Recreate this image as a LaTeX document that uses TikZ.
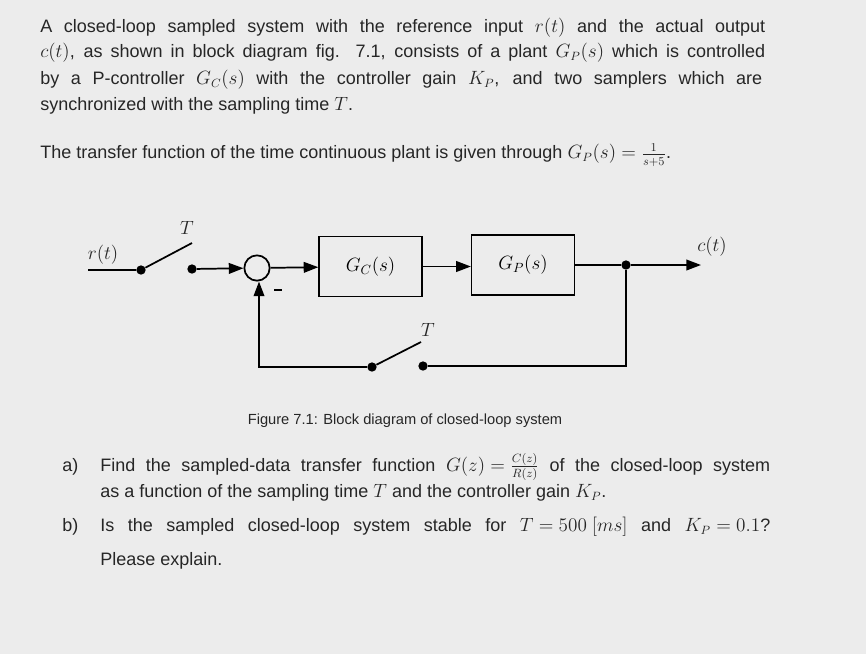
\documentclass[tikz,border=0pt]{standalone}
\usepackage{fontspec}
\setmainfont{Liberation Sans}
\usetikzlibrary{arrows.meta}
\begin{document}
\begin{tikzpicture}[x=0.75pt,y=-0.75pt,
  txt/.style={anchor=west,inner sep=0pt,font=\fontsize{13.5}{16}\selectfont,text=black!85},
  blk/.style={draw,line width=1.2pt,minimum width=77pt,minimum height=45pt,inner sep=0pt,font=\fontsize{14}{16}\selectfont},
  ln/.style={line width=1.3pt},
  arr/.style={ln,-{Triangle[length=11pt,width=8pt]}},
  dot/.style={circle,fill,inner sep=0pt,minimum size=7pt}]
\fill[gray!15] (0,0) rectangle (866,654);
\useasboundingbox (0,0) rectangle (866,654);
\node[txt] (l1) at (40,28) {\makebox[543.75pt][s]{A closed-loop sampled system with the reference input \mbox{$r(t)$} and the actual output}};
\node[txt] (l2) at (40,53) {\makebox[543.75pt][s]{\mbox{$c(t)$}, as shown in block diagram fig. 7.1, consists of a plant \mbox{$G_P(s)$} which is controlled}};
\node[txt] (l3) at (40,80) {\makebox[541.5pt][s]{by a P-controller \mbox{$G_C(s)$} with the controller gain \mbox{$K_P$}, and two samplers which are}};
\node[txt] (l4) at (40,106) {synchronized with the sampling time $T$.};
\node[txt] (l5) at (40,155) {The transfer function of the time continuous plant is given through \mbox{$G_P(s)=\frac{1}{s+5}$}.};
% diagram
\coordinate (rin) at (88,270);
\node[dot] (p1) at (141,270) {};
\coordinate (b1) at (192,243);
\node[dot] (d1) at (192,269) {};
\node[draw,circle,line width=1.3pt,minimum size=19pt,inner sep=0pt] (sum) at (257,268) {};
\node[blk] (gc) at (370.5,266.5) {$G_C(s)$};
\node[blk] (gp) at (523,265) {$G_P(s)$};
\node[dot] (br) at (626,265) {};
\coordinate (out) at (701,265);
\node[dot] (d2) at (423,366) {};
\node[dot] (p2) at (372,367) {};
\coordinate (b2) at (421,342);
\coordinate (c1) at (626,366);
\coordinate (c2) at (259,367);
\draw[ln] (rin) -- (p1) -- (b1);
\draw[arr] (d1) -- (sum);
\draw[arr] (sum) -- (gc);
\draw[arr] (gc) -- (gp.west|-gc);
\draw[ln] (gp.east|-br) -- (br);
\draw[arr] (br) -- (out);
\draw[ln] (br) -- (c1) -- (d2);
\draw[ln] (p2) -- (b2);
\draw[arr] (p2) -- (c2) -- (sum.south-|c2);
\node[inner sep=0pt] (mn) at (278,290) {\rule{6pt}{1.5pt}};
\node[txt,anchor=center] (tr) at (103,255) {$r(t)$};
\node[txt,anchor=center] (tc) at (712,247) {$c(t)$};
\node[txt,anchor=center] (t1) at (187,228) {$T$};
\node[txt,anchor=center] (t2) at (428,330) {$T$};
\node[txt,anchor=center,font=\fontsize{11}{13}\selectfont] (cap) at (405,421) {Figure 7.1: Block diagram of closed-loop system};
\node[txt] (a) at (62,467) {a)};
\node[txt] (a1) at (100,467) {\makebox[502.5pt][s]{Find the sampled-data transfer function \mbox{$G(z)=\frac{C(z)}{R(z)}$} of the closed-loop system}};
\node[txt] (a2) at (100,493) {as a function of the sampling time $T$ and the controller gain $K_P$.};
\node[txt] (b) at (62,527) {b)};
\node[txt] (b1t) at (100,527) {\makebox[502.5pt][s]{Is the sampled closed-loop system stable for \mbox{$T=500$ $[ms]$} and \mbox{$K_P=0.1$}?}};
\node[txt] (b2t) at (100,561) {Please explain.};
\end{tikzpicture}
\end{document}
